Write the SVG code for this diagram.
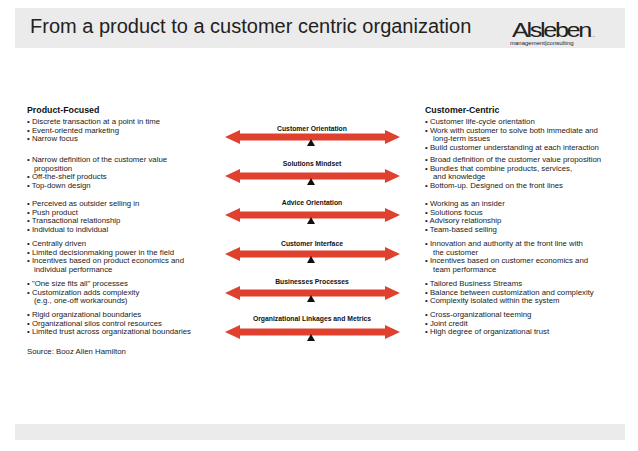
<svg xmlns="http://www.w3.org/2000/svg" width="638" height="451" viewBox="0 0 638 451">
<defs>
<style>
.t{font-family:"Liberation Sans",Arial,sans-serif;font-size:7.8px;fill:#222}
.h{font-family:"Liberation Sans",Arial,sans-serif;font-size:8.8px;font-weight:bold;fill:#111}
.l{font-family:"Liberation Sans",Arial,sans-serif;font-size:6.8px;font-weight:bold;fill:#111;text-anchor:middle}
.a{fill:#e0402e}
</style>
<g id="arrow">
<polygon class="a" points="0,0 15,-7 15,-3.5 160,-3.5 160,-7 175,0 160,7 160,3.5 15,3.5 15,7"/>
<polygon fill="#111" points="86,2 82,9 90,9"/>
</g>
</defs>
<rect x="15" y="8" width="610" height="40" fill="#ebebeb"/>
<rect x="15" y="424" width="610" height="16" fill="#ebebeb"/>
<text x="30" y="33" style="font-family:'Liberation Sans',Arial,sans-serif;font-size:20px;fill:#222">From a product to a customer centric organization</text>
<text x="512" y="37" style="font-family:'Liberation Sans',Arial,sans-serif;font-size:21px;fill:#222;letter-spacing:-2px" textLength="78" lengthAdjust="spacingAndGlyphs">Alsleben</text>
<text x="591" y="37" style="font-family:'Liberation Sans',Arial,sans-serif;font-size:5px;fill:#222">...</text>
<text x="510" y="45" style="font-family:'Liberation Sans',Arial,sans-serif;font-size:6px;fill:#222">management|consulting</text>
<g id="left">
<text class="h" x="27" y="113">Product-Focused</text>
<text class="t" x="27" y="124">• Discrete transaction at a point in time</text>
<text class="t" x="27" y="132.5">• Event-oriented marketing</text>
<text class="t" x="27" y="141">• Narrow focus</text>
<text class="t" x="27" y="162">• Narrow definition of the customer value</text>
<text class="t" x="34" y="170.5">proposition</text>
<text class="t" x="27" y="179">• Off-the-shelf products</text>
<text class="t" x="27" y="188">• Top-down design</text>
<text class="t" x="27" y="206">• Perceived as outsider selling in</text>
<text class="t" x="27" y="214.5">• Push product</text>
<text class="t" x="27" y="223">• Transactional relationship</text>
<text class="t" x="27" y="231.5">• Individual to individual</text>
<text class="t" x="27" y="246">• Centrally driven</text>
<text class="t" x="27" y="254.5">• Limited decisionmaking power in the field</text>
<text class="t" x="27" y="263">• Incentives based on product economics and</text>
<text class="t" x="34" y="271.5">individual performance</text>
<text class="t" x="27" y="286">• "One size fits all" processes</text>
<text class="t" x="27" y="294.5">• Customization adds complexity</text>
<text class="t" x="34" y="303">(e.g., one-off workarounds)</text>
<text class="t" x="27" y="317">• Rigid organizational boundaries</text>
<text class="t" x="27" y="325.5">• Organizational silos control resources</text>
<text class="t" x="27" y="334">• Limited trust across organizational boundaries</text>
<text class="t" x="27" y="354">Source: Booz Allen Hamilton</text>
</g>
<g id="right">
<text class="h" x="425" y="113">Customer-Centric</text>
<text class="t" x="425" y="124">• Customer life-cycle orientation</text>
<text class="t" x="425" y="132.5">• Work with customer to solve both immediate and</text>
<text class="t" x="433" y="141">long-term issues</text>
<text class="t" x="425" y="150">• Build customer understanding at each interaction</text>
<text class="t" x="425" y="162">• Broad definition of the customer value proposition</text>
<text class="t" x="425" y="170.5">• Bundles that combine products, services,</text>
<text class="t" x="433" y="179">and knowledge</text>
<text class="t" x="425" y="188">• Bottom-up. Designed on the front lines</text>
<text class="t" x="425" y="206">• Working as an insider</text>
<text class="t" x="425" y="214.5">• Solutions focus</text>
<text class="t" x="425" y="223">• Advisory relationship</text>
<text class="t" x="425" y="231.5">• Team-based selling</text>
<text class="t" x="425" y="246">• Innovation and authority at the front line with</text>
<text class="t" x="433" y="254.5">the customer</text>
<text class="t" x="425" y="263">• Incentives based on customer economics and</text>
<text class="t" x="433" y="271.5">team performance</text>
<text class="t" x="425" y="286">• Tailored Business Streams</text>
<text class="t" x="425" y="294.5">• Balance between customization and complexity</text>
<text class="t" x="425" y="303">• Complexity isolated within the system</text>
<text class="t" x="425" y="317">• Cross-organizational teeming</text>
<text class="t" x="425" y="325.5">• Joint credit</text>
<text class="t" x="425" y="334">• High degree of organizational trust</text>
</g>
<g id="connectors">
<use href="#arrow" x="225" y="137"/>
<use href="#arrow" x="225" y="176"/>
<use href="#arrow" x="225" y="215"/>
<use href="#arrow" x="225" y="254"/>
<use href="#arrow" x="225" y="293"/>
<use href="#arrow" x="225" y="332"/>
</g>
<g id="labels">
<text class="l" x="312" y="131">Customer Orientation</text>
<text class="l" x="312" y="166">Solutions Mindset</text>
<text class="l" x="312" y="205">Advice Orientation</text>
<text class="l" x="312" y="246">Customer Interface</text>
<text class="l" x="312" y="284">Businesses Processes</text>
<text class="l" x="312" y="321">Organizational Linkages and Metrics</text>
</g>
</svg>
